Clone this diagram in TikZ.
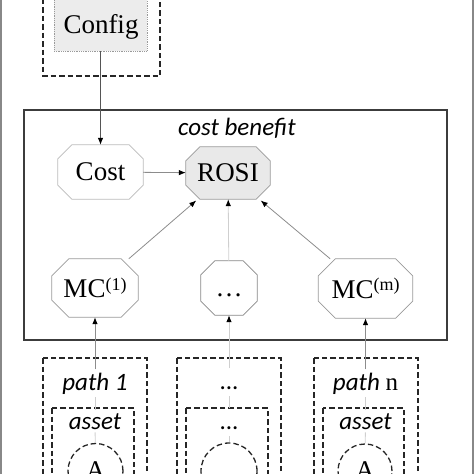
\documentclass[tikz,border=0pt]{standalone}
\usepackage{fontspec}
\setmainfont{Liberation Serif}
\newfontfamily\calfont{Carlito}
\usetikzlibrary{arrows.meta}
\pgfdeclarelayer{bg}
\pgfsetlayers{bg,main}
\definecolor{framegray}{HTML}{888888}
\definecolor{boxgray}{HTML}{3C3C3C}
\definecolor{octgray}{HTML}{9A9A9A}
\definecolor{costgray}{HTML}{BBBBBB}
\definecolor{rosifill}{HTML}{E9E9E9}
\definecolor{cfgfill}{HTML}{ECECEC}
\definecolor{dashgray}{HTML}{262626}
\definecolor{linegray}{HTML}{8C8C8C}
\definecolor{lightline}{HTML}{CFCFCF}
\definecolor{darkline}{HTML}{555555}
\begin{document}
\begin{tikzpicture}[x=1pt,y=-1pt,
  every node/.style={inner sep=0pt},
  serif/.style={font=\fontsize{27}{30}\selectfont},
  lab/.style={font=\calfont\itshape\fontsize{25}{28}\selectfont, anchor=base, inner sep=3pt},
  oct/.style={rectangle, inner sep=0pt, serif},
  octline/.style={line width=0.8pt},
  dbox/.style={draw=dashgray, line width=1.3pt, dash pattern=on 5.5pt off 3pt},
  conn/.style={draw=linegray, line width=0.8pt},
  arr/.style={conn, -{Latex[length=7pt,width=5.5pt,color=black]}}
]
\useasboundingbox (0,0) rectangle (474,474);
\clip (0,0) rectangle (474,474);

% frame lines of the original figure
\fill[framegray] (0,0) rectangle (2.2,474);
\fill[framegray] (471.8,0) rectangle (474,474);

% config
\draw[dbox] (43,-10) rectangle (160,76);
\node[draw=octgray, densely dotted, line width=0.8pt, fill=cfgfill, minimum width=93pt, minimum height=62pt] (cfgbox) at (100.5,20) {};
\node[serif, anchor=base] (cfg) at (101,33) {Config};

% cost benefit container
\node[draw=boxgray, line width=1.2pt, minimum width=423pt, minimum height=230pt] (cb) at (235.5,225) {};
\node[lab] (cblab) at (237,135) {cost benefit};

% octagons (text nodes; outlines drawn on the background layer)
\node[oct, minimum width=85pt, minimum height=54pt] (cost) at (100.5,172) {Cost};
\node[oct, minimum width=84pt, minimum height=52pt] (rosi) at (228,173) {ROSI};
\node[oct, minimum width=86pt, minimum height=58pt] (mc1) at (95,288) {MC\raisebox{7.5pt}{\fontsize{18}{18}\selectfont(1)}};
\node[oct, minimum width=56pt, minimum height=54pt] (mcd) at (229,288) {\vphantom{C}\dots};
\node[oct, minimum width=94pt, minimum height=59pt] (mcm) at (365.5,288.5) {MC\raisebox{7.5pt}{\fontsize{18}{18}\selectfont(m)}};

\begin{pgfonlayer}{bg}
\foreach \n/\c/\f/\k in {cost/costgray/white/14pt, rosi/octgray/rosifill/14pt, mc1/octgray/white/17pt, mcd/framegray/white/14pt, mcm/octgray/white/17pt}{
  \draw[octline, draw=\c, fill=\f]
    ([xshift=\k]\n.north west) -- ([xshift=-\k]\n.north east) -- ([yshift=-\k]\n.north east)
    -- ([yshift=\k]\n.south east) -- ([xshift=-\k]\n.south east) -- ([xshift=\k]\n.south west)
    -- ([yshift=\k]\n.south west) -- ([yshift=-\k]\n.north west) -- cycle;
}
\end{pgfonlayer}

% path columns
\draw[dbox] (43,358) rectangle (147,490);
\draw[dbox] (52,408) rectangle (134,490);
\draw[dbox] (177,358) rectangle (281,490);
\draw[dbox] (186,408) rectangle (268,490);
\draw[dbox] (314,358) rectangle (418,490);
\draw[dbox] (323,408) rectangle (404,490);

\node[lab] (p1) at (95,390) {path 1};
\node[lab] (a1) at (95,429) {asset};
\node[circle, dbox, minimum size=55pt, serif] (c1) at (95.5,471) {A};

\node[lab, font=\calfont\fontsize{25}{28}\selectfont] (pd) at (229,389) {\vphantom{path}...};
\node[lab, font=\calfont\fontsize{25}{28}\selectfont] (ad) at (229,429) {\vphantom{path}...};
\node[circle, dbox, minimum size=56pt] (cd) at (229,471) {};

\node[lab] (pn) at (365.5,390) {path {\normalfont\upshape n}};
\node[lab] (an) at (365.5,429) {asset};
\node[circle, dbox, minimum size=54pt, serif] (cn) at (365,471) {A};

% connectors
\draw[conn, draw=darkline, -{Latex[length=7pt,width=5.5pt,color=black]}] (cfgbox) -- (cost);
\draw[arr] (cost) -- (rosi);
\draw[arr, shorten >=2pt] (mc1) -- (rosi);
\draw[arr, draw=lightline] (mcd) -- (rosi);
\draw[arr, shorten >=2pt] (mcm) -- (rosi);

\draw[conn, draw=lightline] (c1) -- (a1);
\draw[conn, draw=lightline] (a1) -- (p1);
\draw[arr] (p1) -- (mc1);

\draw[conn, draw=lightline] (cd) -- (ad);
\draw[conn, draw=lightline] (ad) -- (pd);
\draw[arr, draw=lightline] (pd) -- (mcd);

\draw[conn, draw=lightline] (cn) -- (an);
\draw[conn, draw=lightline] (an) -- (pn);
\draw[arr] (pn) -- (mcm);
\end{tikzpicture}
\end{document}
